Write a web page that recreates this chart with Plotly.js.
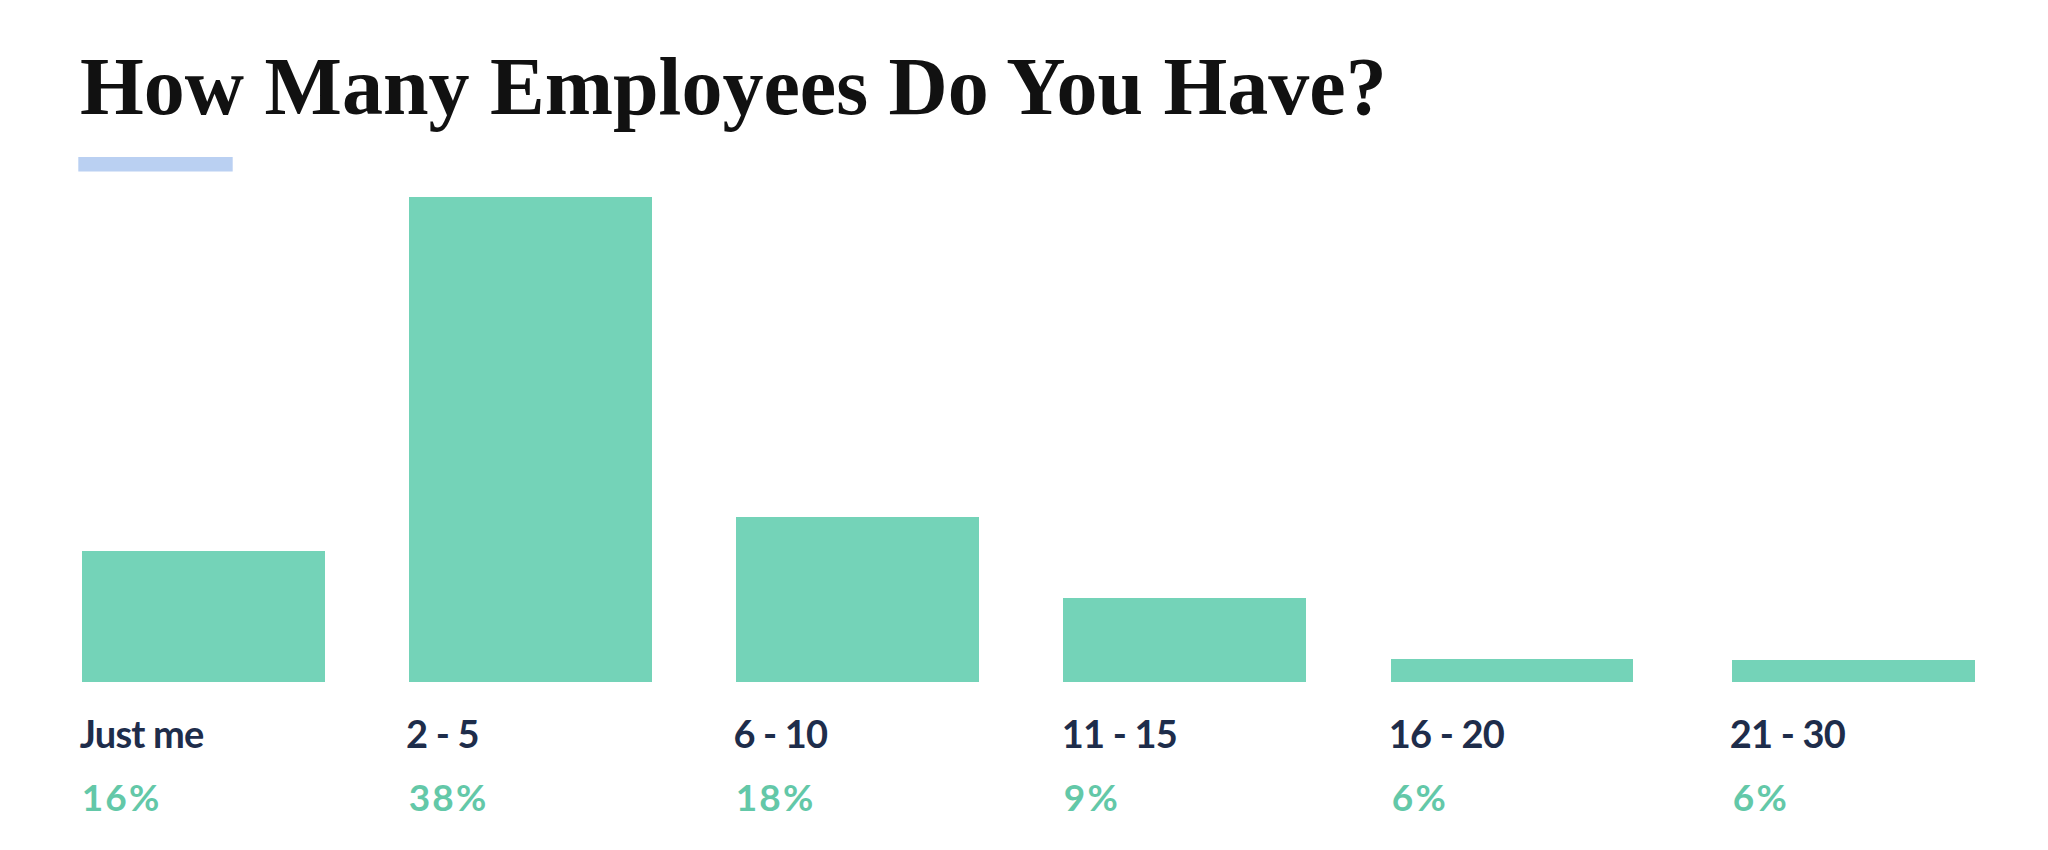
<!DOCTYPE html>
<html>
<head>
<meta charset="utf-8">
<script src="https://cdn.plot.ly/plotly-3.0.1.min.js"></script>
<style>
  html, body { margin: 0; padding: 0; background: #ffffff; }
  #chart { width: 2048px; height: 850px; }
</style>
<style id="spacing"></style>
</head>
<body>
<div id="chart"></div>
<script>
// ---- data ----
const categories = ["Just me", "2 - 5", "6 - 10", "11 - 15", "16 - 20", "21 - 30"];
const barHeights = [10.3, 38, 12.9, 6.6, 1.8, 1.7];   // bar lengths as drawn
const percents = [16, 38, 18, 9, 6, 6];                // printed shares
const titleText = "How Many Employees Do You Have?";

// ---- styling ----
const BAR_COLOR = "#74d3b8";
const LABEL_COLOR = "#1e2d4b";
const PCT_COLOR = "#63c8a8";
const barWidth = 0.742;
const baseOffset = -barWidth / 2;
const offsets = categories.map((c, i) => baseOffset + (i === categories.length - 1 ? 0.0443 : 0));

const xIdx = categories.map((c, i) => i);

const trace = {
  type: "bar",
  x: xIdx,
  y: barHeights,
  width: barWidth,
  offset: offsets,
  marker: { color: BAR_COLOR, line: { width: 0 } },
  hoverinfo: "skip",
  showlegend: false
};

const annotations = [];
categories.forEach((c, i) => {
  annotations.push({
    x: i + offsets[i] - 0.021, xref: "x", xanchor: "left",
    y: -0.106, yref: "paper", yanchor: "middle",
    text: c, showarrow: false,
    font: { family: "Lato", size: 38, color: LABEL_COLOR, weight: 700 }
  });
  annotations.push({
    x: i + offsets[i] + 0.003, xref: "x", xanchor: "left",
    y: -0.237, yref: "paper", yanchor: "middle",
    text: percents[i] + "%", showarrow: false,
    font: { family: "Lato", size: 37, color: PCT_COLOR, weight: 700 }
  });
});

// letter spacing: tighter category labels, wider percentages
let css = "";
annotations.forEach((a, k) => {
  const ls = (k % 2 === 0) ? "-0.8px" : "2.2px";
  css += `g.annotation[data-index="${k}"] text { letter-spacing: ${ls}; }\n`;
});
document.getElementById("spacing").textContent = css;

const layout = {
  width: 2048, height: 850,
  paper_bgcolor: "#ffffff", plot_bgcolor: "#ffffff",
  margin: { l: 0, r: 0, t: 197.3, b: 168.3, pad: 0 },
  title: {
    text: titleText,
    x: 80 / 2048, xref: "container", xanchor: "left",
    y: 1 - 85 / 850, yref: "container", yanchor: "middle",
    font: { family: "Liberation Serif", size: 82, color: "#111111", weight: 700 }
  },
  xaxis: {
    type: "linear", range: [-0.6210, 5.6382],
    showgrid: false, zeroline: false, showticklabels: false, showline: false, ticks: ""
  },
  yaxis: {
    range: [0, 38],
    showgrid: false, zeroline: false, showticklabels: false, showline: false, ticks: ""
  },
  shapes: [{
    type: "rect", xref: "paper", yref: "paper",
    x0: 78.3 / 2048, x1: 232.7 / 2048,
    y0: 1.0528, y1: 1.0826,
    fillcolor: "#bad0f2", line: { width: 0 }, layer: "above"
  }],
  annotations: annotations,
  bargap: 0
};

Plotly.newPlot("chart", [trace], layout, { displayModeBar: false, staticPlot: true });
</script>
</body>
</html>
